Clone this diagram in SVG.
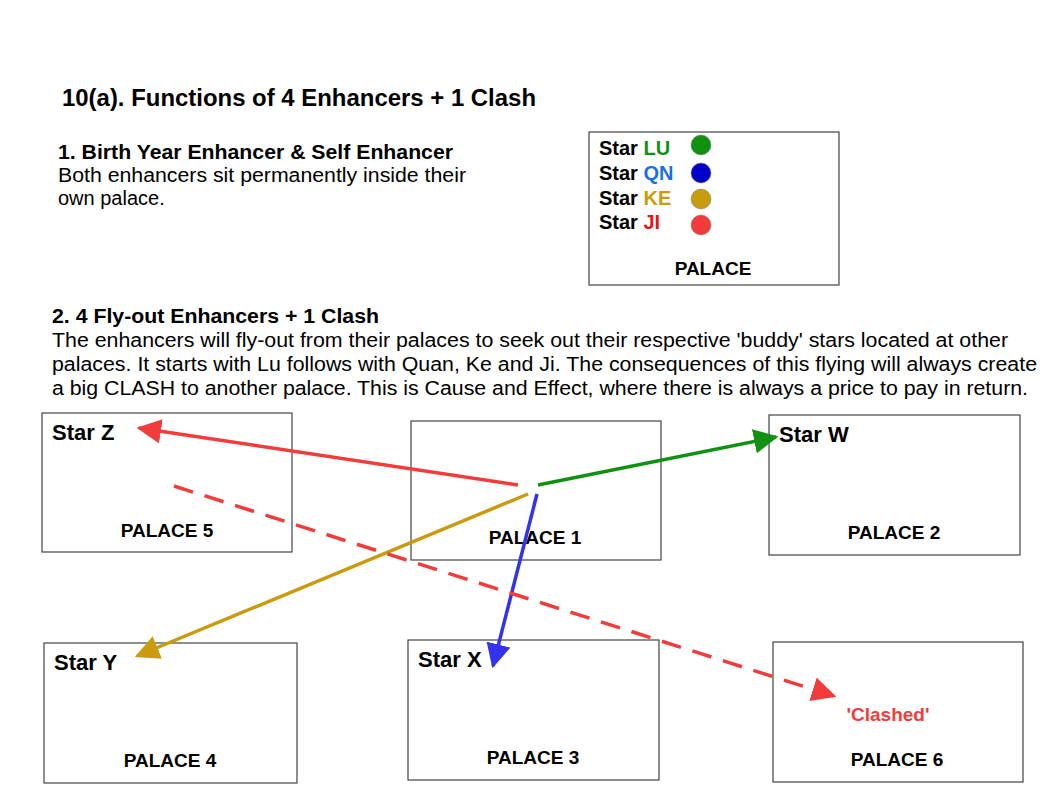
<svg xmlns="http://www.w3.org/2000/svg" width="1058" height="794" viewBox="0 0 1058 794">
<style>
text{font-family:"Liberation Sans",Arial,sans-serif;fill:#000}
.b{font-weight:bold}
.box{fill:#fff;stroke:#444;stroke-width:1.2}
.t{font-size:20px}
.lbl{font-size:19px;font-weight:bold}
.st{font-size:22px;font-weight:bold}
.c{stroke-width:3.5;fill:none}
</style>
<defs>
<marker id="mr" viewBox="0 0 10 10" refX="9" refY="5" markerWidth="7" markerHeight="7" orient="auto"><path d="M0,0L10,5L0,10z" fill="#f23c3c"/></marker>
<marker id="mg" viewBox="0 0 10 10" refX="9" refY="5" markerWidth="7" markerHeight="7" orient="auto"><path d="M0,0L10,5L0,10z" fill="#119111"/></marker>
<marker id="my" viewBox="0 0 10 10" refX="9" refY="5" markerWidth="7" markerHeight="7" orient="auto"><path d="M0,0L10,5L0,10z" fill="#c99b0e"/></marker>
<marker id="mb" viewBox="0 0 10 10" refX="9" refY="5" markerWidth="7" markerHeight="7" orient="auto"><path d="M0,0L10,5L0,10z" fill="#3333ee"/></marker>
</defs>
<text x="62" y="106" class="b" font-size="23" textLength="474" lengthAdjust="spacingAndGlyphs">10(a). Functions of 4 Enhancers + 1 Clash</text>
<text x="58" y="159" class="b t" textLength="395" lengthAdjust="spacingAndGlyphs">1. Birth Year Enhancer &amp; Self Enhancer</text>
<text x="58" y="182" class="t" textLength="408" lengthAdjust="spacingAndGlyphs">Both enhancers sit permanently inside their</text>
<text x="58" y="205" class="t">own palace.</text>
<g id="legend">
<rect x="589" y="132" width="250" height="153" class="box"/>
<text x="599" y="155" class="b t">Star <tspan fill="#119111">LU</tspan></text>
<text x="599" y="180" class="b t">Star <tspan fill="#1a6fe6">QN</tspan></text>
<text x="599" y="205" class="b t">Star <tspan fill="#c99b0e">KE</tspan></text>
<text x="599" y="229" class="b t">Star <tspan fill="#e81414">JI</tspan></text>
<circle cx="701" cy="145" r="10" fill="#119111" stroke="#777" stroke-width="0.5"/>
<circle cx="701" cy="173" r="10" fill="#0000c8" stroke="#777" stroke-width="0.5"/>
<circle cx="701" cy="199" r="10" fill="#c99b0e" stroke="#777" stroke-width="0.5"/>
<circle cx="701" cy="225" r="10" fill="#f23c3c" stroke="#777" stroke-width="0.5"/>
<text x="713" y="275" text-anchor="middle" class="lbl">PALACE</text>
</g>
<text x="52" y="323" class="b t" textLength="327" lengthAdjust="spacingAndGlyphs">2. 4 Fly-out Enhancers + 1 Clash</text>
<text x="52" y="347" class="t" textLength="956" lengthAdjust="spacingAndGlyphs">The enhancers will fly-out from their palaces to seek out their respective 'buddy' stars located at other</text>
<text x="52" y="371" class="t" textLength="985" lengthAdjust="spacingAndGlyphs">palaces. It starts with Lu follows with Quan, Ke and Ji. The consequences of this flying will always create</text>
<text x="52" y="395" class="t" textLength="976" lengthAdjust="spacingAndGlyphs">a big CLASH to another palace. This is Cause and Effect, where there is always a price to pay in return.</text>
<g id="p5"><rect x="42" y="413" width="250" height="139" class="box"/><text x="52" y="440" class="st">Star Z</text><text x="167" y="537" text-anchor="middle" class="lbl">PALACE 5</text></g>
<g id="p1"><rect x="411" y="421" width="250" height="139" class="box"/><text x="535" y="544" text-anchor="middle" class="lbl">PALACE 1</text></g>
<g id="p2"><rect x="769" y="415" width="251" height="140" class="box"/><text x="779" y="442" class="st">Star W</text><text x="894" y="539" text-anchor="middle" class="lbl">PALACE 2</text></g>
<g id="p4"><rect x="44" y="643" width="253" height="140" class="box"/><text x="54" y="670" class="st">Star Y</text><text x="170" y="767" text-anchor="middle" class="lbl">PALACE 4</text></g>
<g id="p3"><rect x="408" y="640" width="251" height="140" class="box"/><text x="418" y="667" class="st">Star X</text><text x="533" y="764" text-anchor="middle" class="lbl">PALACE 3</text></g>
<g id="p6"><rect x="773" y="642" width="250" height="140" class="box"/><text x="888" y="721" text-anchor="middle" font-size="19" font-weight="bold" style="fill:#f23c3c">'Clashed'</text><text x="897" y="766" text-anchor="middle" class="lbl">PALACE 6</text></g>
<g id="connectors">
<line x1="518" y1="485" x2="139" y2="428" stroke="#f23c3c" class="c" marker-end="url(#mr)"/>
<line x1="538" y1="485" x2="776" y2="437" stroke="#119111" class="c" marker-end="url(#mg)"/>
<line x1="528" y1="494" x2="137" y2="656" stroke="#c99b0e" class="c" marker-end="url(#my)"/>
<line x1="537" y1="494" x2="493" y2="666" stroke="#3333ee" class="c" marker-end="url(#mb)"/>
<line x1="174" y1="486" x2="834" y2="696" stroke="#f23c3c" class="c" stroke-dasharray="20,12" marker-end="url(#mr)"/>
</g>
</svg>
